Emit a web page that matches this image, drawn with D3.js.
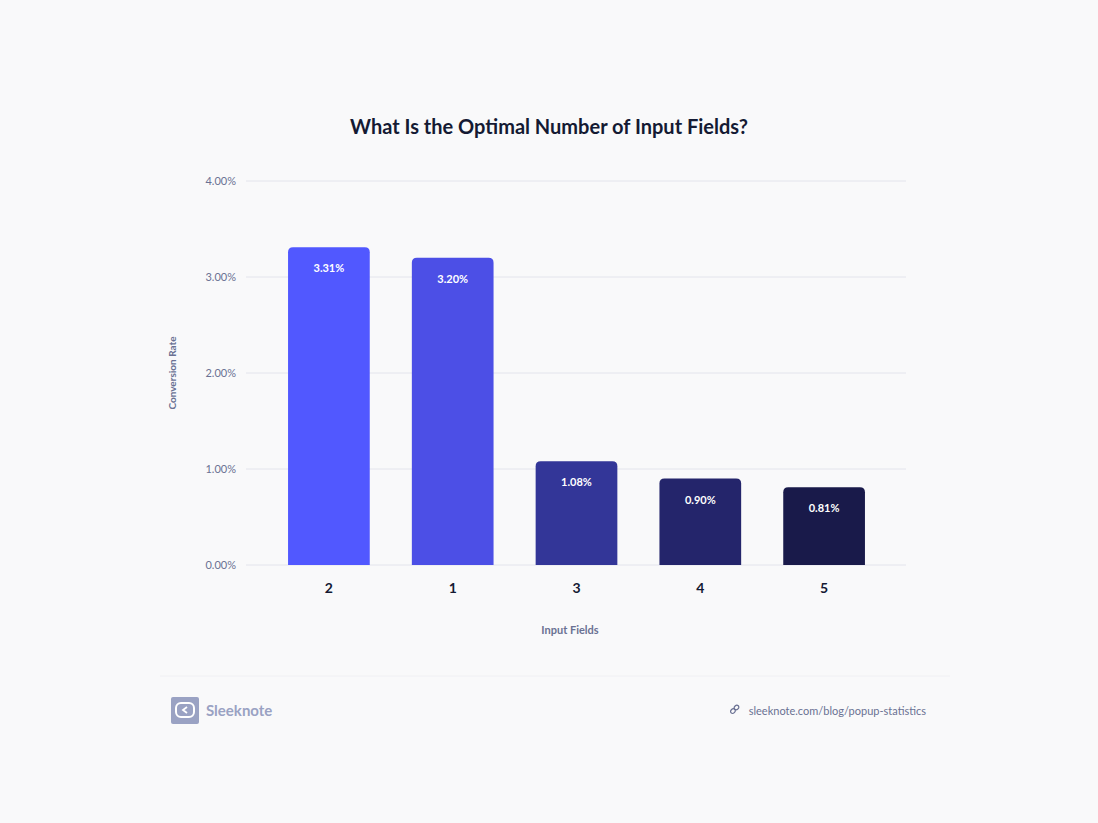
<!DOCTYPE html>
<html><head><meta charset="utf-8">
<script src="https://cdn.jsdelivr.net/npm/d3@7"></script>
<style>
  body { margin: 0; background: #f9f9fa; font-family: Lato, sans-serif; }
</style></head>
<body><svg id="chart" width="1098" height="823"></svg>
<script>
const categories = ['2', '1', '3', '4', '5'];
const values = [3.31, 3.20, 1.08, 0.90, 0.81];
const barColors = ['#5158ff', '#4c4fe6', '#333698', '#24256b', '#191a4a'];
const yTicks = [0, 1, 2, 3, 4];

const svg = d3.select('#chart');
svg.append('rect').attr('width', 1098).attr('height', 823).attr('fill', '#f9f9fa');

const x = d3.scaleBand().domain(categories).range([267, 886]).paddingInner(0.34).paddingOuter(0.17);
const y = d3.scaleLinear().domain([0, 4]).range([565, 181]);

svg.append('text').attr('x', 549).attr('y', 134).attr('text-anchor', 'middle')
  .attr('font-size', 20).attr('font-weight', 700).attr('fill', '#141a33')
  .text('What Is the Optimal Number of Input Fields?');

// grid + y labels
svg.append('g').selectAll('line').data(yTicks).join('line')
  .attr('x1', 246).attr('x2', 906).attr('y1', d => y(d)).attr('y2', d => y(d))
  .attr('stroke', '#e3e4ec').attr('stroke-width', 1);
svg.append('g').selectAll('text').data(yTicks).join('text')
  .attr('x', 236).attr('y', d => y(d) + 4).attr('text-anchor', 'end')
  .attr('font-size', 11).attr('fill', '#6a7193')
  .text(d => d.toFixed(2) + '%');

// bars: rounded top only
const r = 5;
function barPath(x0, y0, w, y1) {
  return `M${x0},${y1}V${y0 + r}Q${x0},${y0} ${x0 + r},${y0}H${x0 + w - r}Q${x0 + w},${y0} ${x0 + w},${y0 + r}V${y1}Z`;
}
svg.append('g').selectAll('path').data(categories).join('path')
  .attr('d', (c, i) => barPath(x(c), y(values[i]), x.bandwidth(), y(0)))
  .attr('fill', (c, i) => barColors[i]);
svg.append('g').selectAll('text').data(categories).join('text')
  .attr('x', c => x(c) + x.bandwidth() / 2)
  .attr('y', (c, i) => y(values[i]) + 25).attr('text-anchor', 'middle')
  .attr('font-size', 11).attr('font-weight', 700).attr('fill', '#fff')
  .text((c, i) => values[i].toFixed(2) + '%');

// x labels
svg.append('g').selectAll('text').data(categories).join('text')
  .attr('x', c => x(c) + x.bandwidth() / 2).attr('y', 593).attr('text-anchor', 'middle')
  .attr('font-size', 14).attr('font-weight', 700).attr('fill', '#141a33')
  .text(c => c);

svg.append('text').attr('x', 570).attr('y', 634).attr('text-anchor', 'middle')
  .attr('font-size', 11).attr('font-weight', 700).attr('fill', '#6a7193').text('Input Fields');
svg.append('text').attr('transform', 'translate(176,373) rotate(-90)').attr('text-anchor', 'middle')
  .attr('font-size', 10).attr('font-weight', 700).attr('fill', '#6a7193').text('Conversion Rate');

// footer
svg.append('line').attr('x1', 160).attr('x2', 950).attr('y1', 676).attr('y2', 676)
  .attr('stroke', '#f0f0f3');
svg.append('rect').attr('x', 171).attr('y', 697).attr('width', 28).attr('height', 27).attr('rx', 2)
  .attr('fill', '#9aa2c3');
svg.append('rect').attr('x', 176).attr('y', 703).attr('width', 18).attr('height', 14).attr('rx', 5)
  .attr('fill', 'none').attr('stroke', '#fff').attr('stroke-width', 2);
svg.append('path').attr('d', 'M187,707 L183,710 L187,713').attr('fill', 'none')
  .attr('stroke', '#fff').attr('stroke-width', 1.8);
svg.append('text').attr('x', 206).attr('y', 716).attr('font-size', 15).attr('font-weight', 700)
  .attr('fill', '#9aa2c3').text('Sleeknote');
svg.append('text').attr('x', 926).attr('y', 715).attr('text-anchor', 'end').attr('font-size', 11)
  .attr('fill', '#6a7193').text('sleeknote.com/blog/popup-statistics');
svg.append('g').attr('transform', 'translate(734,710) rotate(-45)').attr('fill', 'none')
  .attr('stroke', '#6a7193').attr('stroke-width', 1.2)
  .selectAll('rect').data([-4, 1]).join('rect')
  .attr('x', d => d).attr('y', -2).attr('width', 5).attr('height', 4).attr('rx', 2);
</script></body></html>
